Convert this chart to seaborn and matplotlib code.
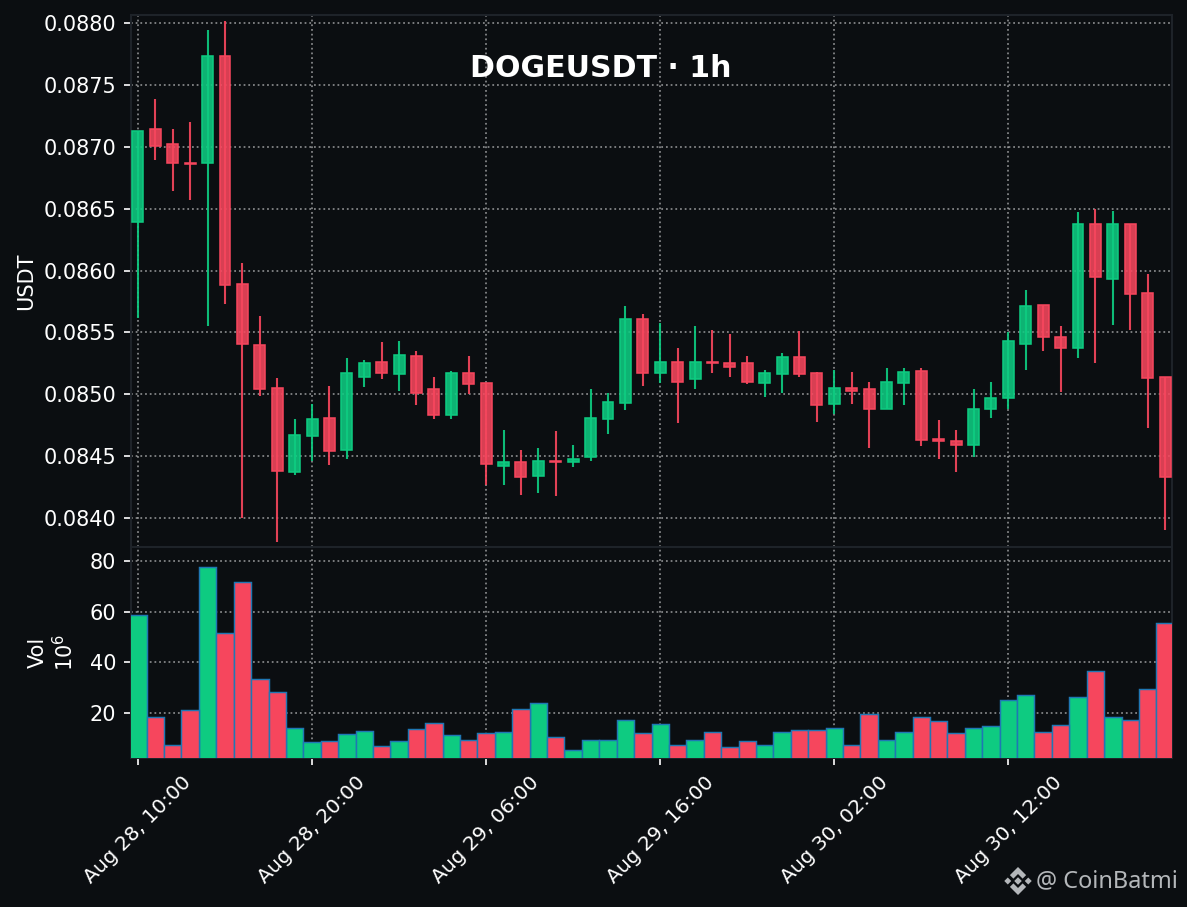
import matplotlib
matplotlib.use("Agg")
import matplotlib.pyplot as plt
from matplotlib.colors import to_rgba
import numpy as np
import pandas as pd
import seaborn as sns

W, H, DPI = 1187, 907, 150
BG = "#0b0e11"
UP = "#0ecb81"
DOWN = "#f6465d"
SPINE = "#1e2329"

opens = [0.08639, 0.08714, 0.08702, 0.08687, 0.08687, 0.08773, 0.08589, 0.08540, 0.08505, 0.08437,
         0.08466, 0.08481, 0.08455, 0.08514, 0.08526, 0.08516, 0.08531, 0.08504, 0.08483, 0.08517,
         0.08509, 0.08442, 0.08445, 0.08434, 0.08446, 0.08445, 0.08449, 0.08480, 0.08493, 0.08561,
         0.08517, 0.08526, 0.08512, 0.08526, 0.08525, 0.08525, 0.08509, 0.08516, 0.08530, 0.08517,
         0.08492, 0.08505, 0.08504, 0.08488, 0.08509, 0.08519, 0.08464, 0.08462, 0.08459, 0.08488,
         0.08497, 0.08541, 0.08572, 0.08546, 0.08537, 0.08638, 0.08593, 0.08638, 0.08582, 0.08514]
highs = [0.08713, 0.08739, 0.08714, 0.08720, 0.08794, 0.08802, 0.08606, 0.08563, 0.08513, 0.08480,
         0.08492, 0.08507, 0.08529, 0.08528, 0.08542, 0.08543, 0.08535, 0.08514, 0.08519, 0.08531,
         0.08509, 0.08471, 0.08455, 0.08457, 0.08470, 0.08459, 0.08504, 0.08501, 0.08571, 0.08565,
         0.08558, 0.08537, 0.08555, 0.08552, 0.08549, 0.08531, 0.08520, 0.08533, 0.08551, 0.08518,
         0.08520, 0.08518, 0.08510, 0.08521, 0.08521, 0.08521, 0.08479, 0.08471, 0.08504, 0.08510,
         0.08550, 0.08584, 0.08572, 0.08555, 0.08647, 0.08650, 0.08648, 0.08638, 0.08597, 0.08514]
lows = [0.08562, 0.08689, 0.08664, 0.08657, 0.08555, 0.08573, 0.08400, 0.08499, 0.08381, 0.08435,
        0.08446, 0.08443, 0.08448, 0.08506, 0.08512, 0.08503, 0.08491, 0.08480, 0.08480, 0.08500,
        0.08427, 0.08427, 0.08419, 0.08420, 0.08418, 0.08441, 0.08446, 0.08468, 0.08487, 0.08507,
        0.08509, 0.08477, 0.08504, 0.08517, 0.08514, 0.08508, 0.08498, 0.08501, 0.08514, 0.08478,
        0.08484, 0.08492, 0.08457, 0.08488, 0.08491, 0.08458, 0.08448, 0.08437, 0.08449, 0.08481,
        0.08488, 0.08520, 0.08535, 0.08502, 0.08529, 0.08525, 0.08556, 0.08552, 0.08473, 0.08390]
closes = [0.08713, 0.08701, 0.08687, 0.08686, 0.08773, 0.08588, 0.08541, 0.08504, 0.08438, 0.08467,
          0.08480, 0.08454, 0.08517, 0.08525, 0.08517, 0.08532, 0.08501, 0.08483, 0.08517, 0.08508,
          0.08444, 0.08445, 0.08433, 0.08446, 0.08445, 0.08448, 0.08481, 0.08494, 0.08561, 0.08517,
          0.08526, 0.08510, 0.08526, 0.08525, 0.08522, 0.08510, 0.08517, 0.08530, 0.08516, 0.08491,
          0.08505, 0.08503, 0.08488, 0.08510, 0.08518, 0.08463, 0.08462, 0.08459, 0.08488, 0.08497,
          0.08543, 0.08571, 0.08546, 0.08537, 0.08638, 0.08595, 0.08638, 0.08581, 0.08513, 0.08433]
volumes = [58.7, 18.3, 7.2, 21.0, 77.9, 51.6, 72.0, 33.3, 28.2, 13.9,
           8.4, 8.8, 11.6, 12.8, 6.8, 8.8, 13.6, 15.9, 11.2, 9.2,
           12.0, 12.4, 21.4, 23.8, 10.4, 5.3, 9.2, 9.2, 17.1, 12.0,
           15.5, 7.2, 9.2, 12.4, 6.4, 8.8, 7.2, 12.4, 13.2, 13.2,
           13.9, 7.2, 19.5, 9.2, 12.4, 18.3, 16.7, 12.0, 13.9, 14.7,
           25.0, 27.0, 12.4, 15.1, 26.2, 36.8, 18.3, 17.1, 29.7, 55.6]
tick_positions = [0, 10, 20, 30, 40, 50]
tick_labels = ["Aug 28, 10:00", "Aug 28, 20:00", "Aug 29, 06:00",
               "Aug 29, 16:00", "Aug 30, 02:00", "Aug 30, 12:00"]
price_ticks = [0.0840, 0.0845, 0.0850, 0.0855, 0.0860, 0.0865, 0.0870, 0.0875, 0.0880]
volume_ticks = [20, 40, 60, 80]

df = pd.DataFrame({"i": range(len(opens)), "open": opens, "high": highs,
                   "low": lows, "close": closes, "vol": volumes})
df["dir"] = np.where(df["close"] >= df["open"], "up", "down")
palette = {"up": UP, "down": DOWN}

sns.set_theme(style="dark", rc={
    "figure.facecolor": BG, "axes.facecolor": BG, "savefig.facecolor": BG,
    "axes.edgecolor": SPINE, "axes.linewidth": 1.0,
    "text.color": "white", "axes.labelcolor": "white",
    "xtick.color": "white", "ytick.color": "white",
    "xtick.bottom": True, "ytick.left": True,
    "grid.color": "#ffffff", "grid.alpha": 0.5, "grid.linestyle": ":", "grid.linewidth": 0.85,
    "font.size": 10,
})
plt.rcParams["font.family"] = ["DejaVu Sans"]


def box(left, top, right, bottom):
    return [left / W, 1 - bottom / H, (right - left) / W, (bottom - top) / H]


fig = plt.figure(figsize=((W + 0.01) / DPI, (H + 0.01) / DPI), dpi=DPI)
ax = fig.add_axes(box(131, 15, 1172, 547))
vax = fig.add_axes(box(131, 547, 1172, 758), sharex=ax)

# Price panel
colors = df["dir"].map(palette)
ax.vlines(df["i"], df["low"], df["high"], colors=colors, linewidth=1.0, alpha=0.92, zorder=2)
ax.bar(df["i"], (df["close"] - df["open"]).abs(), bottom=df[["open", "close"]].min(axis=1),
       width=0.63, color=[to_rgba(c, 0.88) for c in colors], edgecolor=list(colors),
       linewidth=0.75, zorder=3)
ax.set_ylim(0.083766, 0.088065)
ax.set_yticks(price_ticks)
ax.set_yticklabels([f"{t:.4f}" for t in price_ticks], fontsize=10)
ax.set_ylabel("USDT", fontsize=10, labelpad=3.6)
ax.tick_params(axis="x", which="both", bottom=False, labelbottom=False)
ax.grid(True)
ax.set_axisbelow(True)

# Volume panel
sns.barplot(data=df, x="i", y="vol", hue="dir", palette=palette, dodge=False, width=1.0,
            saturation=1, edgecolor="#1f77b4", linewidth=0.7, legend=False, ax=vax, zorder=3)
vax.set_ylim(2.2, 85.7)
vax.set_yticks(volume_ticks)
vax.set_yticklabels([str(t) for t in volume_ticks], fontsize=10)
vax.set_xlim(-0.40, 59.40)
vax.set_xticks(tick_positions)
vax.set_xticklabels(tick_labels, rotation=45, ha="center", fontsize=9.7)
vax.set_xlabel("")
vax.set_ylabel("Vol\n$10^{6}$", fontsize=10, labelpad=6, linespacing=1.2)
vax.grid(True)
vax.set_axisbelow(True)

for a in (ax, vax):
    a.tick_params(length=3.5, width=0.8, pad=3.5, color="white", labelcolor="white")
vax.tick_params(axis="x", bottom=True)
ax.tick_params(axis="x", bottom=False)

fig.text(601 / W, 1 - 68 / H, "DOGEUSDT · 1h", ha="center", va="center",
         fontsize=14.4, fontweight="bold", color="white")

# Watermark
wm_color = "#b4b7ba"
fig.text(1178 / W, 1 - 881 / H, "@ CoinBatmi", ha="right", va="center", fontsize=11.3,
         color=wm_color, family=["Noto Sans", "DejaVu Sans"])
logo = fig.add_axes(box(1004, 867, 1032, 895))
logo.set_xlim(-1, 1)
logo.set_ylim(-1, 1)
logo.axis("off")
logo_shapes = [
    [(0, 0.27), (0.27, 0), (0, -0.27), (-0.27, 0)],
    [(-0.98, 0), (-0.73, 0.25), (-0.48, 0), (-0.73, -0.25)],
    [(0.98, 0), (0.73, 0.25), (0.48, 0), (0.73, -0.25)],
    [(0, 1), (0.58, 0.42), (0.33, 0.17), (0, 0.5), (-0.33, 0.17), (-0.58, 0.42)],
    [(0, -1), (0.58, -0.42), (0.33, -0.17), (0, -0.5), (-0.33, -0.17), (-0.58, -0.42)],
]
for shape in logo_shapes:
    logo.fill(*zip(*shape), color=wm_color, linewidth=0)

fig.savefig("out.png", dpi=DPI)
